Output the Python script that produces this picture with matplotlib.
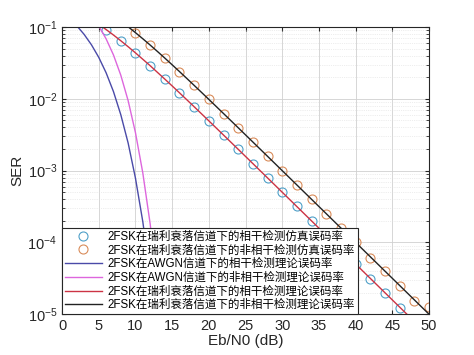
import matplotlib
matplotlib.use("Agg")
import matplotlib.pyplot as plt
import numpy as np

plt.rcParams['font.family'] = ['Liberation Sans', 'Noto Sans CJK SC', 'DejaVu Sans']
plt.rcParams['axes.unicode_minus'] = False

# Eb/N0 axis for theoretical curves (dB)
snr_db = list(range(0, 51))

# AWGN coherent 2FSK (theory), 0..13 dB
awgn_coh_db = list(range(0, 14))
awgn_coh = [0.1587, 0.1309, 0.1040, 0.0789, 0.0565, 0.0377, 0.0230, 0.0126,
            0.0060, 0.00242, 7.83e-4, 1.94e-4, 3.43e-5, 3.97e-6]

# AWGN non-coherent 2FSK (theory), 0..14 dB
awgn_nc_db = list(range(0, 15))
awgn_nc = [0.3033, 0.2666, 0.2264, 0.1843, 0.1424, 0.1029, 0.0683, 0.0408,
           0.0213, 0.00942, 0.00337, 9.27e-4, 1.82e-4, 2.32e-5, 1.75e-6]

# Rayleigh coherent 2FSK (theory), 0..50 dB
ray_coh = [0.2113, 0.1892, 0.1675, 0.1467, 0.1269, 0.1087, 0.0921, 0.0773,
           0.0643, 0.0531, 0.0436, 0.0355, 0.0289, 0.0233, 0.01879, 0.01510,
           0.01210, 0.009687, 0.007741, 0.006178, 0.004926, 0.003925, 0.003125,
           0.002487, 0.001979, 0.001574, 0.001251, 9.947e-4, 7.906e-4, 6.283e-4,
           4.993e-4, 3.967e-4, 3.151e-4, 2.503e-4, 1.989e-4, 1.580e-4, 1.255e-4,
           9.972e-5, 7.922e-5, 6.293e-5, 4.999e-5, 3.971e-5, 3.154e-5, 2.506e-5,
           1.990e-5, 1.581e-5, 1.256e-5, 9.976e-6, 7.924e-6, 6.294e-6, 5.0e-6]

# Rayleigh non-coherent 2FSK (theory), 0..50 dB
ray_nc = [0.3333, 0.3068, 0.2789, 0.2503, 0.2216, 0.1937, 0.1672, 0.1426,
          0.1203, 0.1006, 0.08333, 0.06854, 0.05603, 0.04555, 0.03687, 0.02974,
          0.02392, 0.01919, 0.01536, 0.01228, 0.009804, 0.007819, 0.006231,
          0.004962, 0.003950, 0.003142, 0.002499, 0.001987, 0.001580, 0.001256,
          9.98e-4, 7.931e-4, 6.302e-4, 5.007e-4, 3.978e-4, 3.160e-4, 2.511e-4,
          1.994e-4, 1.584e-4, 1.259e-4, 9.998e-5, 7.942e-5, 6.309e-5, 5.011e-5,
          3.981e-5, 3.162e-5, 2.512e-5, 1.995e-5, 1.585e-5, 1.259e-5, 1.0e-5]

# Simulation points
sim_coh_db = list(range(6, 47, 2))
sim_coh = [0.0921, 0.0645, 0.0437, 0.0290, 0.01875, 0.01212, 0.00773, 0.00493,
           0.00312, 0.00198, 0.00125, 7.93e-4, 4.98e-4, 3.16e-4, 1.98e-4,
           1.26e-4, 7.89e-5, 5.04e-5, 3.12e-5, 1.98e-5, 1.23e-5]
sim_nc_db = list(range(10, 51, 2))
sim_nc = [0.0834, 0.0560, 0.0369, 0.0239, 0.01537, 0.00982, 0.00623, 0.00395,
          0.00250, 0.00158, 9.97e-4, 6.30e-4, 3.99e-4, 2.51e-4, 1.585e-4,
          1.00e-4, 6.1e-5, 3.98e-5, 2.50e-5, 1.52e-5, 1.27e-5]

labels = ['2FSK在瑞利衰落信道下的相干检测仿真误码率',
          '2FSK在瑞利衰落信道下的非相干检测仿真误码率',
          '2FSK在AWGN信道下的相干检测理论误码率',
          '2FSK在AWGN信道下的非相干检测理论误码率',
          '2FSK在瑞利衰落信道下的相干检测理论误码率',
          '2FSK在瑞利衰落信道下的非相干检测理论误码率']

fig = plt.figure(figsize=(4.74, 3.55), dpi=100)
ax = fig.add_axes([0.131, 0.115, 0.774, 0.809])

ax.semilogy(sim_coh_db, sim_coh, 'o', mfc='none', mec='#4fa0c8', ms=6.5, mew=0.8, label=labels[0])
ax.semilogy(sim_nc_db, sim_nc, 'o', mfc='none', mec='#d98c5a', ms=6.5, mew=0.8, label=labels[1])
ax.semilogy(awgn_coh_db, awgn_coh, '-', color='#4a4aa8', lw=1.0, label=labels[2])
ax.semilogy(awgn_nc_db, awgn_nc, '-', color='#dd66dd', lw=1.0, label=labels[3])
ax.semilogy(snr_db, ray_coh, '-', color='#cc3344', lw=1.0, label=labels[4])
ax.semilogy(snr_db, ray_nc, '-', color='#222222', lw=1.0, label=labels[5])

ax.set_xlim(0, 50)
ax.set_ylim(1e-5, 1e-1)
ax.set_xticks(range(0, 51, 5))
ax.grid(True, which='major', color='#d0d0d0', lw=0.6, ls='-')
ax.grid(True, which='minor', axis='y', color='#dddddd', lw=0.5, ls=':')
ax.tick_params(which='both', direction='in', top=True, right=True, labelsize=10.5, colors='#262626')
ax.tick_params(which='major', length=3)
ax.tick_params(which='minor', length=2)
for s in ax.spines.values():
    s.set_color('#262626')
    s.set_linewidth(0.8)
ax.set_xlabel('Eb/N0 (dB)', fontsize=11, color='#262626', labelpad=1)
ax.set_ylabel('SER', fontsize=11, color='#262626', labelpad=2)

leg = ax.legend(loc='lower left', fontsize=8.3, frameon=True, fancybox=False,
                edgecolor='#262626', framealpha=1, borderpad=0.25, labelspacing=0.15,
                handlelength=3.2, handletextpad=0.5, borderaxespad=0.0)
leg.get_frame().set_linewidth(0.8)

fig.savefig('out.png', dpi=100)
